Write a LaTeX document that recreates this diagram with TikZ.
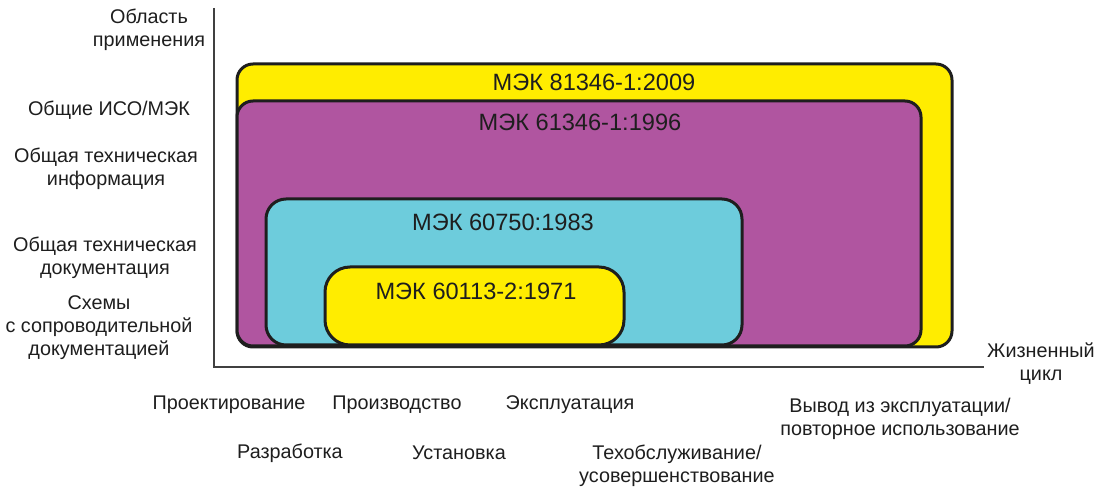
\documentclass[tikz,border=0pt]{standalone}
\usepackage{fontspec}
\setmainfont{Liberation Sans}
\definecolor{ieyellow}{HTML}{FFED00}
\definecolor{iepurple}{HTML}{B055A0}
\definecolor{iecyan}{HTML}{6DCCDC}
\definecolor{ink}{HTML}{1E1E1E}
\begin{document}
\begin{tikzpicture}[x=1pt,y=-1pt,
  box/.style={draw=ink, line width=3pt, anchor=north west, inner sep=0pt, outer sep=0pt},
  lbl/.style={font=\fontsize{19.8}{23}\selectfont, align=center, text=ink, inner sep=0pt},
  boxlbl/.style={font=\fontsize{23.6}{27}\selectfont, text=ink, inner sep=0pt},
  axisline/.style={draw=ink!85, line width=2pt}]
\useasboundingbox (0,0) rectangle (1101,494);
% axes
\coordinate (ytop) at (214,8);
\coordinate (origin) at (214,367);
\coordinate (xend) at (984,367);
\draw[axisline] (ytop) -- (origin) -- (xend);
% boxes
\node[box, fill=ieyellow, rounded corners=16pt, minimum width=715pt, minimum height=283pt] (b81346) at (237,64) {};
\node[box, fill=iepurple, rounded corners=16pt, minimum width=684pt, minimum height=245pt] (b61346) at (237,101) {};
\node[box, fill=iecyan, rounded corners=20pt, minimum width=476pt, minimum height=146pt] (b60750) at (266,199) {};
\node[box, fill=ieyellow, rounded corners=25pt, minimum width=299pt, minimum height=78pt] (b60113) at (325,267) {};
% box labels
\node[boxlbl] (t81346) at (594,82) {МЭК 81346-1:2009};
\node[boxlbl] (t61346) at (580,122) {МЭК 61346-1:1996};
\node[boxlbl] (t60750) at (503,222) {МЭК 60750:1983};
\node[boxlbl] (t60113) at (476,291) {МЭК 60113-2:1971};
% vertical axis labels
\node[lbl] (yaxis) at (149,30) {Область\\применения};
\node[lbl] (yiso) at (109,110) {Общие ИСО/МЭК};
\node[lbl] (yinfo) at (106,169) {Общая техническая\\информация};
\node[lbl] (ydoc) at (105,258) {Общая техническая\\документация};
\node[lbl] (yscheme) at (99,328) {Схемы\\с сопроводительной\\документацией};
% horizontal axis labels
\node[lbl] (xaxis) at (1041,364) {Жизненный\\цикл};
\node[lbl] (xdesign) at (229,405) {Проектирование};
\node[lbl] (xprod) at (397,405) {Производство};
\node[lbl] (xoper) at (570,405) {Эксплуатация};
\node[lbl] (xdecom) at (900,419) {Вывод из эксплуатации/\\повторное использование};
\node[lbl] (xdev) at (290,453) {Разработка};
\node[lbl] (xinst) at (459,453) {Установка};
\node[lbl] (xmaint) at (677,466) {Техобслуживание/\\усовершенствование};
\end{tikzpicture}
\end{document}
